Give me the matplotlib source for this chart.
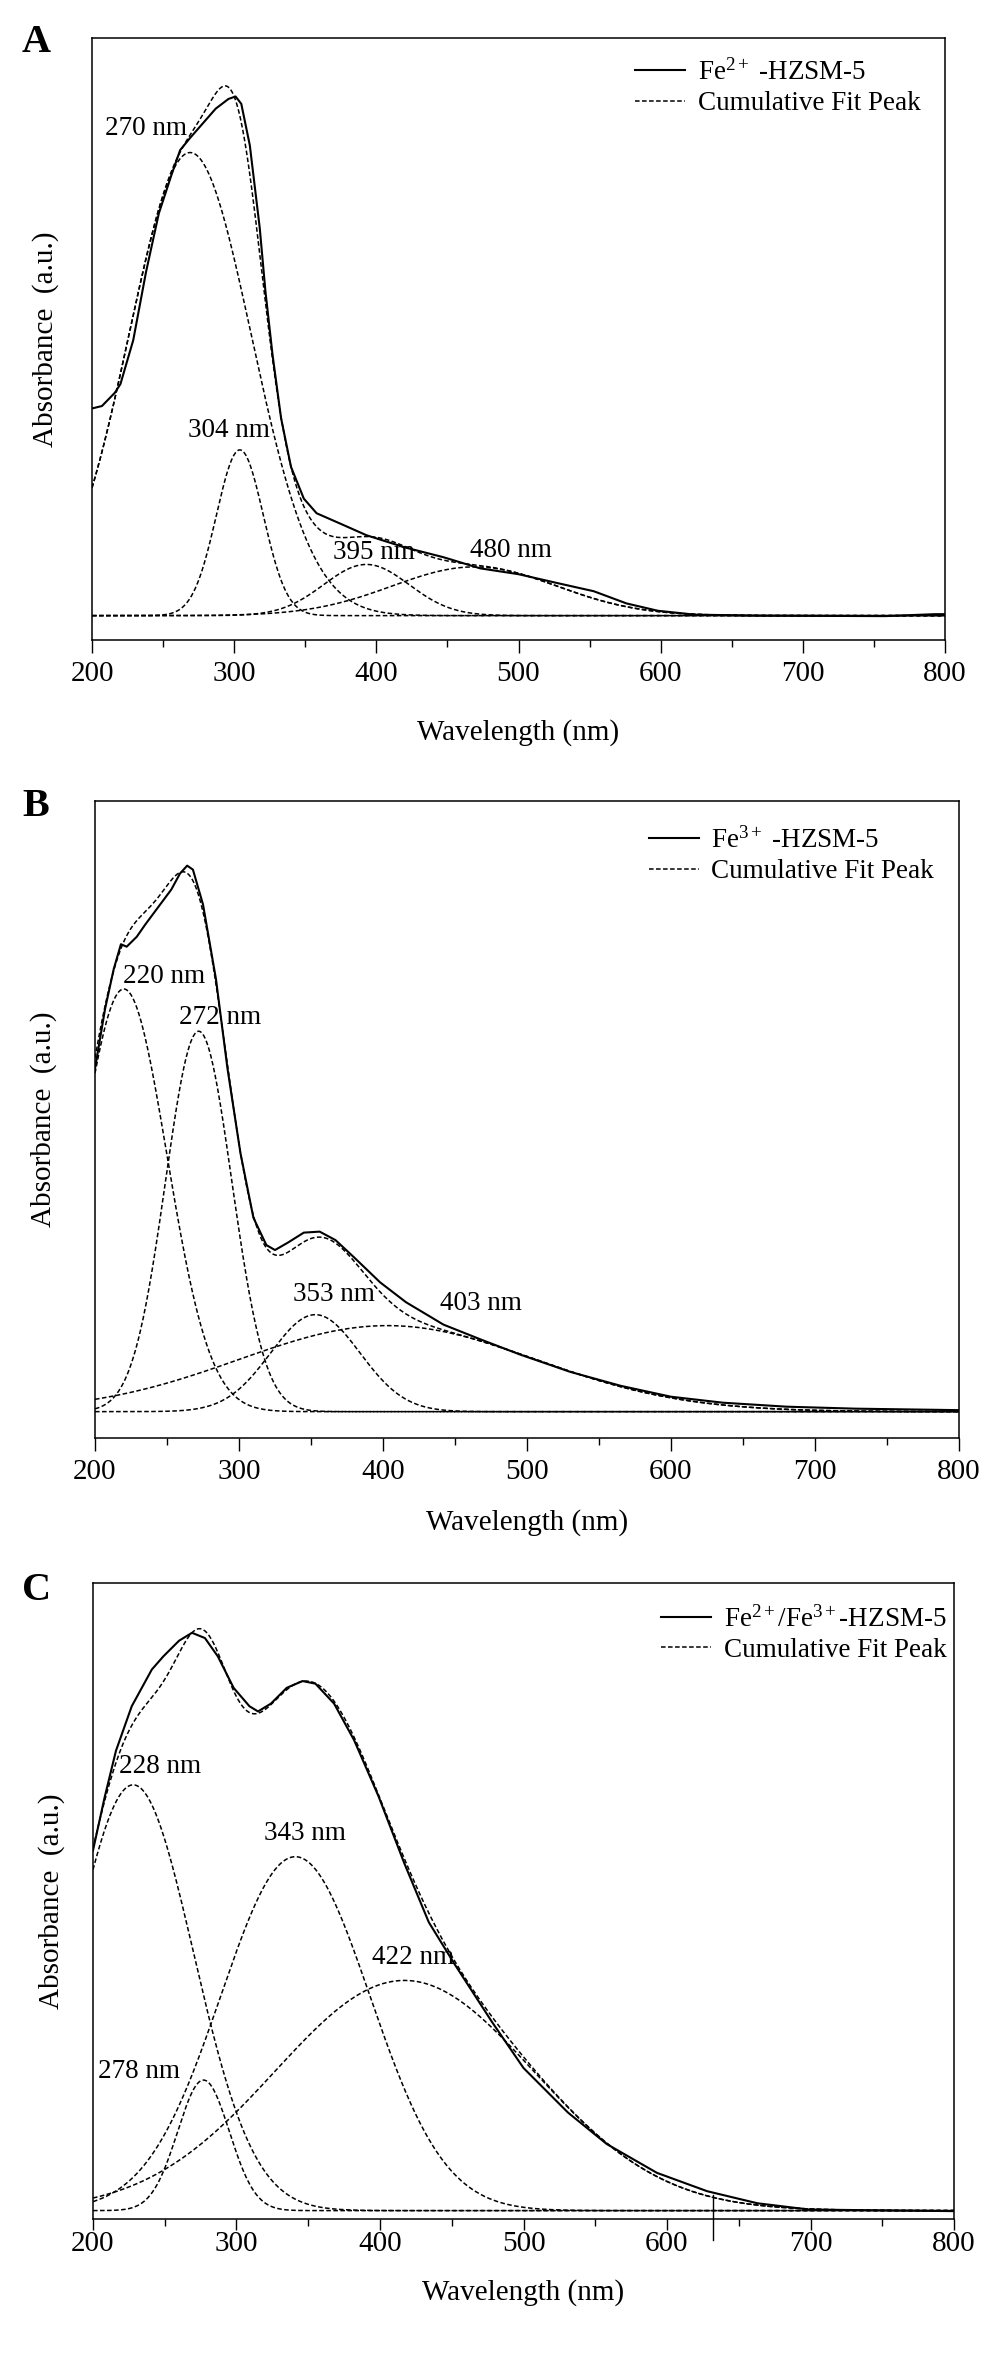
import numpy as np
import matplotlib
matplotlib.use('Agg')
import matplotlib.pyplot as plt
from matplotlib.ticker import MultipleLocator

plt.rcParams['font.family'] = ['Liberation Serif', 'DejaVu Serif']
plt.rcParams['mathtext.fontset'] = 'custom'
plt.rcParams['mathtext.rm'] = 'Liberation Serif'
plt.rcParams['mathtext.it'] = 'Liberation Serif:italic'

# ---------------- Panel A : Fe2+-HZSM-5 ----------------
a_wl = [200, 207, 216, 220, 229, 238, 247, 256, 262, 269, 278, 287, 296, 301, 305,
        311, 318, 322, 327, 333, 340, 349, 358, 376, 393, 420, 447, 473, 500, 527,
        553, 576, 598, 624, 669, 758, 793, 800]
a_abs = [425, 430, 457, 475, 565, 705, 825, 905, 955, 980, 1010, 1040, 1060, 1065, 1050,
         965, 795, 665, 535, 405, 305, 240, 210, 187, 165, 140, 120, 97, 85, 67,
         50, 25, 10, 2, 0, -1, 3, 3]
a_centers = [269, 304, 393, 469]
a_heights = [950, 340, 105, 100]
a_widths = [43, 16.5, 30, 58]
a_labels = ['270 nm', '304 nm', '395 nm', '480 nm']
a_label_x = [238, 296, 398, 495]
a_label_y = [1000, 380, 130, 133]

# ---------------- Panel B : Fe3+-HZSM-5 ----------------
b_wl = [200, 207, 213, 218, 222, 229, 235, 244, 253, 259, 264, 268, 275, 284, 292,
        301, 310, 319, 325, 334, 345, 356, 367, 380, 398, 416, 442, 468, 495, 530,
        565, 600, 636, 680, 728, 800]
b_abs = [690, 810, 890, 940, 935, 955, 980, 1015, 1050, 1082, 1098, 1090, 1020, 870, 690,
         520, 390, 335, 325, 340, 360, 362, 345, 310, 260, 220, 175, 145, 115, 80,
         52, 30, 18, 10, 6, 3]
b_centers = [220, 272, 353, 403]
b_heights = [850, 765, 195, 173]
b_widths = [30, 23, 31, 103]
b_labels = ['220 nm', '272 nm', '353 nm', '403 nm']
b_label_x = [248, 287, 366, 468]
b_label_y = [875, 792, 235, 217]

# ---------------- Panel C : Fe2+/Fe3+-HZSM-5 ----------------
c_wl = [200, 208, 216, 227, 241, 249, 260, 269, 278, 287, 298, 309, 315, 324, 335,
        346, 355, 368, 382, 399, 417, 434, 452, 478, 500, 531, 558, 593, 628, 663,
        699, 800]
c_abs = [687, 787, 877, 962, 1032, 1057, 1087, 1102, 1092, 1057, 997, 962, 952, 967, 997,
         1010, 1005, 967, 897, 790, 662, 550, 470, 360, 272, 187, 127, 72, 37, 14,
         2, -1]
c_centers = [228, 277, 341, 417]
c_heights = [812, 249, 675, 439]
c_widths = [42, 18, 52, 90]
c_labels = ['228 nm', '343 nm', '422 nm', '278 nm']
c_label_x = [247, 348, 423, 232]
c_label_y = [847, 720, 482, 265]
c_cursor_x = [632, 632]
c_cursor_y = [30, -56]

panels = [
    dict(letter='A', name=r'Fe$^{2+}$ -HZSM-5', wl=a_wl, ab=a_abs, cen=a_centers,
         hei=a_heights, wid=a_widths, labs=a_labels, lx=a_label_x, ly=a_label_y,
         box=(92, 945, 38, 640), ylim=(-50, 1185), pad=6, tlen=9.0,
         ylab_x=-0.054, xlab_y=-0.154, leg=(0.637, 0.965), letter_xy=(36, 42)),
    dict(letter='B', name=r'Fe$^{3+}$ -HZSM-5', wl=b_wl, ab=b_abs, cen=b_centers,
         hei=b_heights, wid=b_widths, labs=b_labels, lx=b_label_x, ly=b_label_y,
         box=(95, 959, 801, 1438), ylim=(-53, 1228), pad=6, tlen=9.0,
         ylab_x=-0.060, xlab_y=-0.133, leg=(0.641, 0.959), letter_xy=(36, 807)),
    dict(letter='C', name=r'Fe$^{2+}$/Fe$^{3+}$-HZSM-5', wl=c_wl, ab=c_abs, cen=c_centers,
         hei=c_heights, wid=c_widths, labs=c_labels, lx=c_label_x, ly=c_label_y,
         box=(93, 954, 1583, 2219), ylim=(-16, 1197), pad=1, tlen=7.7,
         ylab_x=-0.048, xlab_y=-0.116, leg=(0.660, 0.964), letter_xy=(37, 1590)),
]

W, H = 991, 2353
fig = plt.figure(figsize=(W / 100, H / 100), dpi=100)
dash = (0, (3, 1.6))
x = np.linspace(200, 800, 1201)

for p in panels:
    l, r, t, b = p['box']
    ax = fig.add_axes([l / W, 1 - b / H, (r - l) / W, (b - t) / H])
    comps = []
    for c, h, s in zip(p['cen'], p['hei'], p['wid']):
        y = h * np.exp(-(x - c) ** 2 / (2 * s ** 2))
        comps.append(y)
        ax.plot(x, y, color='black', lw=1.1, ls=dash)
    cum = np.sum(comps, axis=0)
    ax.plot(p['wl'], p['ab'], color='black', lw=1.5, ls='-', label=p['name'])
    ax.plot(x, cum, color='black', lw=1.1, ls=dash, label='Cumulative Fit Peak')
    for s_, tx, ty in zip(p['labs'], p['lx'], p['ly']):
        ax.text(tx, ty, s_, fontsize=19.5, ha='center', va='center')
    if p['letter'] == 'C':
        ax.plot(c_cursor_x, c_cursor_y, color='black', lw=1.0, clip_on=False)
    ax.set_xlim(200, 800)
    ax.set_ylim(*p['ylim'])
    ax.xaxis.set_major_locator(MultipleLocator(100))
    ax.xaxis.set_minor_locator(MultipleLocator(50))
    ax.set_yticks([])
    ax.tick_params(axis='x', which='major', direction='out', length=p['tlen'],
                   width=1.0, labelsize=21, pad=p['pad'])
    ax.tick_params(axis='x', which='minor', direction='out', length=5, width=1.0)
    for sp in ax.spines.values():
        sp.set_linewidth(1.1)
    ax.set_xlabel('Wavelength (nm)', fontsize=21)
    ax.xaxis.set_label_coords(0.5, p['xlab_y'])
    ax.xaxis.label.set_va('center')
    ax.set_ylabel('Absorbance  (a.u.)', fontsize=21)
    ax.yaxis.set_label_coords(p['ylab_x'], 0.5)
    ax.yaxis.label.set_va('center')
    ax.legend(loc='upper left', bbox_to_anchor=p['leg'], frameon=False, fontsize=19.5,
              borderpad=0, borderaxespad=0, handlelength=1.85, handletextpad=0.45,
              labelspacing=0.2)
    lx_, ly_ = p['letter_xy']
    fig.text(lx_ / W, 1 - ly_ / H, p['letter'], fontsize=29, fontweight='bold',
             ha='center', va='center')

fig.savefig('out.png', dpi=100)
